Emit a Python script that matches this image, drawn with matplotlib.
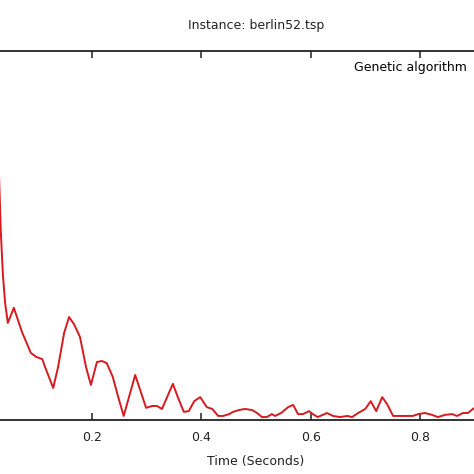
import numpy as np
import matplotlib
matplotlib.use("Agg")
import matplotlib.pyplot as plt

# Best tour length over time (arbitrary units)
time_s = [0.026, 0.033, 0.037, 0.041, 0.046, 0.057, 0.072, 0.088, 0.098, 0.109,
          0.114, 0.129, 0.138, 0.149, 0.158, 0.167, 0.178, 0.189, 0.198, 0.209,
          0.218, 0.227, 0.238, 0.248, 0.258, 0.279, 0.299, 0.310, 0.319, 0.328,
          0.348, 0.357, 0.368, 0.377, 0.387, 0.398, 0.410, 0.420, 0.431, 0.440,
          0.451, 0.458, 0.469, 0.480, 0.493, 0.502, 0.511, 0.520, 0.529, 0.535,
          0.546, 0.559, 0.568, 0.577, 0.586, 0.597, 0.604, 0.613, 0.630, 0.641,
          0.654, 0.667, 0.676, 0.687, 0.700, 0.710, 0.720, 0.731, 0.740, 0.751,
          0.760, 0.787, 0.797, 0.809, 0.822, 0.833, 0.846, 0.859, 0.868, 0.879,
          0.888, 0.897, 0.910, 0.928, 0.946, 0.965, 0.983, 1.000]
ga_value = [85.0, 51.5, 39.3, 31.7, 26.3, 30.4, 23.8, 18.2, 17.1, 16.5,
            14.4, 8.7, 14.4, 23.6, 27.9, 26.0, 22.5, 14.4, 9.5, 15.7,
            16.0, 15.4, 11.7, 6.2, 1.1, 12.2, 3.3, 3.8, 3.8, 3.0,
            9.8, 6.2, 2.2, 2.4, 5.1, 6.2, 3.5, 3.0, 1.1, 1.1,
            1.6, 2.2, 2.7, 3.0, 2.7, 1.9, 0.8, 0.8, 1.6, 1.1,
            1.9, 3.5, 4.1, 1.6, 1.6, 2.4, 1.6, 0.8, 1.9, 1.1,
            0.8, 1.1, 0.8, 1.9, 3.0, 5.1, 2.4, 6.2, 4.3, 1.1,
            1.1, 1.1, 1.6, 1.9, 1.4, 0.8, 1.4, 1.6, 1.1, 1.9,
            1.9, 3.0, 4.1, 2.2, 1.6, 1.9, 1.4, 1.6]

# 0.0 and 1.0 fall outside the cropped picture
x_ticks = [0.2, 0.4, 0.6, 0.8]

plt.rcParams['font.family'] = ['DejaVu Sans']
plt.rcParams['font.size'] = 9

fig = plt.figure(figsize=(4.74, 4.74), dpi=100)
# the original figure is cropped: axes run past the left and right edges
ax = fig.add_axes([-0.0365, 0.1139, 1.153, 0.7785])

ax.plot(time_s, ga_value, color='#d61a1f', lw=1.4, label='Genetic algorithm')

ax.set_xlim(0, 1)
ax.set_ylim(0, 100)
ax.set_xticks(x_ticks)
ax.set_xticklabels([f"{t:.1f}" for t in x_ticks])
ax.set_yticks([])
ax.tick_params(axis='x', direction='in', length=5, width=1.1, color='#222222',
               top=True, pad=8, labelcolor='#222222')
for sp in ax.spines.values():
    sp.set_linewidth(1.3)
    sp.set_color('#222222')

ax.set_title('Instance: berlin52.tsp', fontsize=9, pad=16, color='#222222')
ax.set_xlabel('Time (Seconds)', labelpad=8, color='#222222')
ax.legend(loc='upper right', frameon=False, markerfirst=False,
          bbox_to_anchor=(0.959, 0.986), handlelength=2.0, borderaxespad=0.0)

fig.savefig('out.png', dpi=100)
